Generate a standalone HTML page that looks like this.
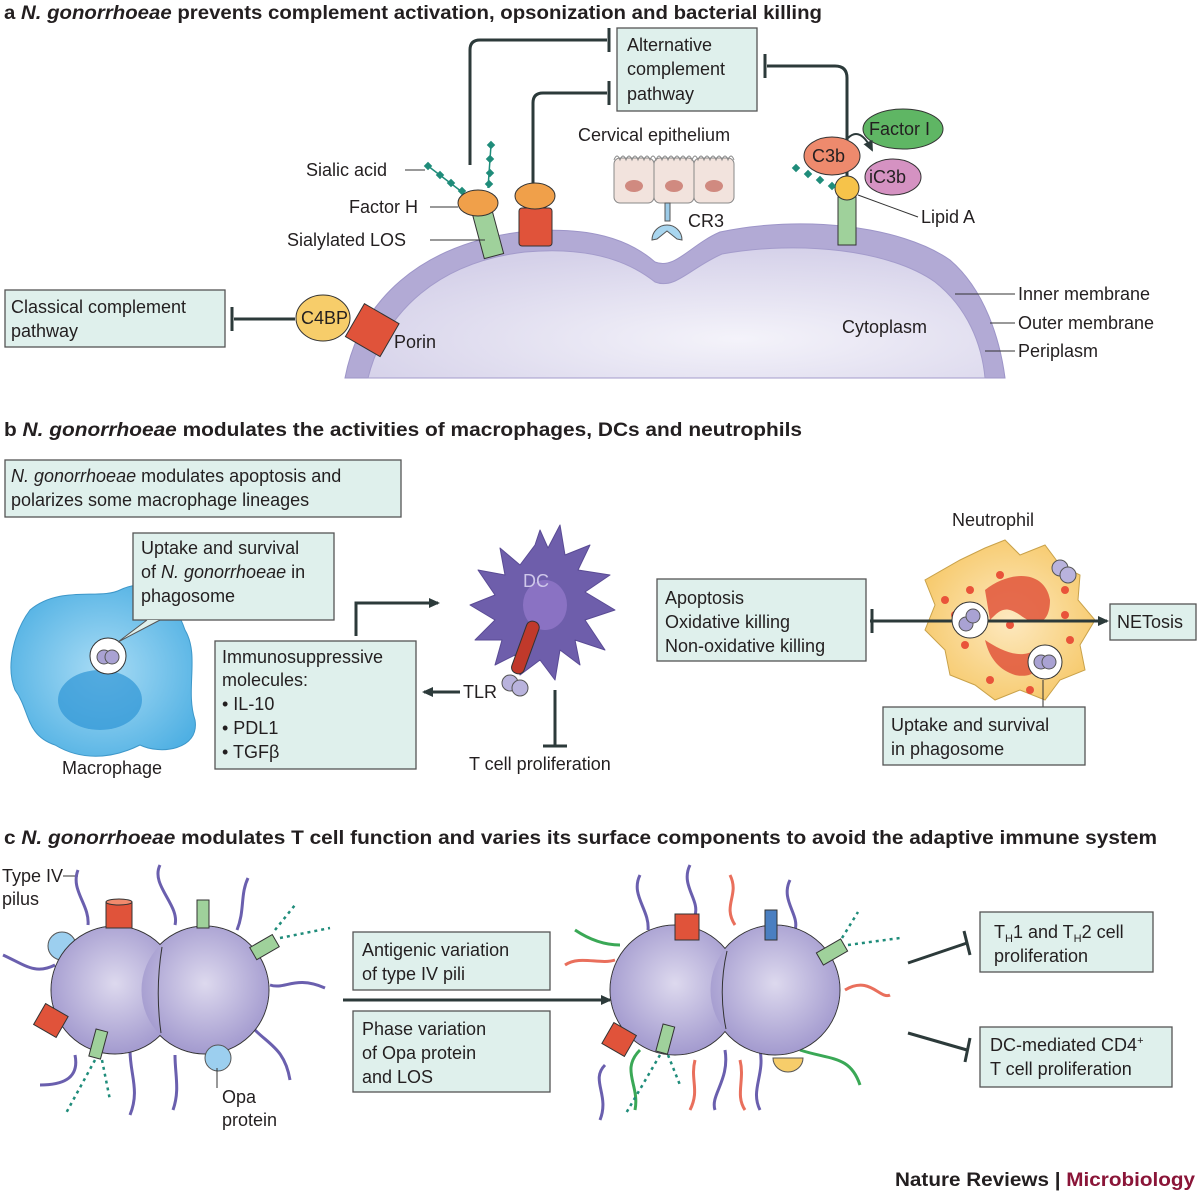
<!DOCTYPE html>
<html><head><meta charset="utf-8"><style>
html,body{margin:0;padding:0;background:#fff}
svg{display:block}
text{font-family:"Liberation Sans",sans-serif;font-size:18px;fill:#231f20}
.t{font-weight:bold;font-size:19px}
.bx{fill:#dff0ec;stroke:#555;stroke-width:1.3}
.ln{stroke:#2c3a3a;stroke-width:3;fill:none}
.th{stroke:#333;stroke-width:1;fill:none}
.pil{stroke:#6a5fae;stroke-width:3;fill:none}
</style></head><body>
<svg width="1200" height="1194" viewBox="0 0 1200 1194" xmlns="http://www.w3.org/2000/svg">
<defs>
<radialGradient id="cyt" cx="0.6" cy="0.7" r="0.7"><stop offset="0" stop-color="#f4f3fa"/><stop offset="1" stop-color="#d5d1e9"/></radialGradient>
<radialGradient id="bac" cx="0.5" cy="0.45" r="0.6"><stop offset="0" stop-color="#ddd9ee"/><stop offset="1" stop-color="#9e95cc"/></radialGradient>
<radialGradient id="mac" cx="0.5" cy="0.5" r="0.6"><stop offset="0" stop-color="#a9dcf5"/><stop offset="1" stop-color="#4fb0e3"/></radialGradient>
<radialGradient id="neu" cx="0.5" cy="0.5" r="0.6"><stop offset="0" stop-color="#fde9c0"/><stop offset="1" stop-color="#f6c765"/></radialGradient>
<marker id="ar" markerUnits="userSpaceOnUse" markerWidth="12" markerHeight="12" refX="9" refY="6" orient="auto"><path d="M0,1 L11,6 L0,11 z" fill="#2c3a3a"/></marker>
</defs>

<!-- ===== Section a ===== -->
<text x="4" y="19" class="t" textLength="818" lengthAdjust="spacingAndGlyphs">a  <tspan font-style="italic">N. gonorrhoeae</tspan> prevents complement activation, opsonization and bacterial killing</text>

<path d="M345,378 C360,300 420,245 520,232 C590,225 630,240 655,262 C675,270 690,245 720,232 C800,215 900,225 950,260 C985,290 1000,340 1005,378 Z" fill="#b2aad5" stroke="#9d95c8"/>
<path d="M368,378 C385,310 440,262 525,252 C590,246 630,262 655,282 C675,290 690,268 722,254 C800,240 890,250 935,282 C968,308 982,345 985,378 Z" fill="url(#cyt)" stroke="#a39bcb"/>

<rect class="bx" x="617" y="28" width="140" height="83"/>
<text x="627" y="51">Alternative</text><text x="627" y="75">complement</text><text x="627" y="100">pathway</text>
<path class="ln" d="M470,165 V50 Q470,40 480,40 H607"/><path class="ln" d="M609,28 V52"/>
<path class="ln" d="M533,183 V103 Q533,93 543,93 H607"/><path class="ln" d="M609,81 V105"/>
<path class="ln" d="M847,180 V78 Q847,66 835,66 H767"/><path class="ln" d="M765,54 V78"/>

<rect class="bx" x="5" y="290" width="220" height="57"/>
<text x="11" y="313">Classical complement</text><text x="11" y="337">pathway</text>
<path class="ln" d="M295,319 H234"/><path class="ln" d="M232,307 V331"/>

<g fill="#1f8c7a">
<rect x="425" y="163" width="6" height="6" transform="rotate(45 428 166)"/>
<rect x="437" y="172" width="6" height="6" transform="rotate(45 440 175)"/>
<rect x="448" y="180" width="6" height="6" transform="rotate(45 451 183)"/>
<rect x="459" y="188" width="6" height="6" transform="rotate(45 462 191)"/>
<rect x="488" y="142" width="6" height="6" transform="rotate(45 491 145)"/>
<rect x="487" y="156" width="6" height="6" transform="rotate(45 490 159)"/>
<rect x="487" y="170" width="6" height="6" transform="rotate(45 490 173)"/>
<rect x="486" y="181" width="6" height="6" transform="rotate(45 489 184)"/>
</g>
<path d="M428,166 L466,195 M491,145 L488,188" stroke="#1f8c7a" stroke-width="1.5"/>
<g transform="rotate(-15 487 230)"><rect x="477" y="212" width="20" height="45" fill="#9fd19b" stroke="#333"/></g>
<ellipse cx="478" cy="203" rx="20" ry="13" fill="#f0a04a" stroke="#333"/>
<rect x="519" y="208" width="33" height="38" rx="3" fill="#e0533a" stroke="#333"/>
<ellipse cx="535" cy="196" rx="20" ry="13" fill="#f0a04a" stroke="#333"/>
<text x="306" y="176">Sialic acid</text><path class="th" d="M405,170 H425"/>
<text x="349" y="213">Factor H</text><path class="th" d="M430,207 H458"/>
<text x="287" y="246">Sialylated LOS</text><path class="th" d="M430,240 H485"/>

<g transform="rotate(30 370 330)"><rect x="352" y="310" width="40" height="38" fill="#e0533a" stroke="#333"/></g>
<ellipse cx="323" cy="318" rx="27" ry="23" fill="#f7cd6a" stroke="#333"/>
<text x="301" y="324">C4BP</text>
<text x="394" y="348">Porin</text>

<text x="578" y="141">Cervical epithelium</text>
<g fill="#f2e3dd" stroke="#888">
<rect x="614" y="158" width="40" height="45" rx="6"/><rect x="654" y="158" width="40" height="45" rx="6"/><rect x="694" y="158" width="40" height="45" rx="6"/>
</g>
<g fill="#d08a80"><ellipse cx="634" cy="186" rx="9" ry="6"/><ellipse cx="674" cy="186" rx="9" ry="6"/><ellipse cx="714" cy="186" rx="9" ry="6"/></g>
<path d="M614,160 q3,-8 6,0 q3,-8 6,0 q3,-8 6,0 q3,-8 6,0 q3,-8 6,0 q3,-8 6,0 q3,-8 6,0 q3,-8 6,0 q3,-8 6,0 q3,-8 6,0 q3,-8 6,0 q3,-8 6,0 q3,-8 6,0 q3,-8 6,0 q3,-8 6,0 q3,-8 6,0 q3,-8 6,0 q3,-8 6,0 q3,-8 6,0 q3,-8 6,0" fill="none" stroke="#888"/>
<rect x="665" y="203" width="5" height="18" fill="#9ccbe8" stroke="#555"/>
<path d="M652,240 a15,15 0 1,1 30,0 l-5,-1 l-10,-8 l-10,8 z" fill="#a9d6ef" stroke="#555"/>
<text x="688" y="227">CR3</text>

<rect x="838" y="197" width="18" height="48" fill="#9fd19b" stroke="#333"/>
<circle cx="847" cy="188" r="12" fill="#f6c34a" stroke="#333"/>
<g fill="#1f8c7a">
<rect x="793" y="165" width="6" height="6" transform="rotate(45 796 168)"/>
<rect x="805" y="171" width="6" height="6" transform="rotate(45 808 174)"/>
<rect x="817" y="177" width="6" height="6" transform="rotate(45 820 180)"/>
<rect x="829" y="183" width="6" height="6" transform="rotate(45 832 186)"/>
</g>
<ellipse cx="832" cy="156" rx="28" ry="19" fill="#ee8a6d" stroke="#333"/><text x="812" y="162">C3b</text>
<ellipse cx="903" cy="129" rx="40" ry="20" fill="#5fb664" stroke="#333"/><text x="869" y="135">Factor I</text>
<ellipse cx="893" cy="177" rx="28" ry="18" fill="#d592c2" stroke="#333"/><text x="869" y="183">iC3b</text>
<path d="M848,138 Q860,126 872,150" fill="none" stroke="#2c3a3a" stroke-width="2" marker-end="url(#ar)"/>
<text x="921" y="223">Lipid A</text><path class="th" d="M858,195 L918,217"/>

<text x="842" y="333">Cytoplasm</text>
<text x="1018" y="300">Inner membrane</text><path class="th" d="M955,294 H1015"/>
<text x="1018" y="329">Outer membrane</text><path class="th" d="M990,323 H1015"/>
<text x="1018" y="357">Periplasm</text><path class="th" d="M985,351 H1015"/>

<!-- ===== Section b ===== -->
<text x="4" y="436" class="t" textLength="798" lengthAdjust="spacingAndGlyphs">b  <tspan font-style="italic">N. gonorrhoeae</tspan> modulates the activities of macrophages, DCs and neutrophils</text>
<rect class="bx" x="5" y="460" width="396" height="57"/>
<text x="11" y="482"><tspan font-style="italic">N. gonorrhoeae</tspan> modulates apoptosis and</text>
<text x="11" y="506">polarizes some macrophage lineages</text>

<path d="M30,610 C60,585 100,600 120,590 C150,575 175,600 185,630 C200,655 185,690 195,720 C200,750 160,755 140,745 C110,760 80,760 55,745 C25,735 30,710 15,690 C5,665 15,630 30,610 Z" fill="url(#mac)" stroke="#3d97c9"/>
<ellipse cx="100" cy="700" rx="42" ry="30" fill="#2f95d6" opacity="0.7"/>
<circle cx="108" cy="656" r="18" fill="#fff" stroke="#333"/>
<circle cx="104" cy="657" r="7" fill="#a9a2d3" stroke="#555"/><circle cx="112" cy="657" r="7" fill="#a9a2d3" stroke="#555"/>
<rect class="bx" x="133" y="533" width="201" height="87"/>
<path d="M147,620 L118,642 L160,620" fill="#dff0ec" stroke="#555"/>
<text x="141" y="554">Uptake and survival</text><text x="141" y="578">of <tspan font-style="italic">N. gonorrhoeae</tspan> in</text><text x="141" y="602">phagosome</text>
<text x="62" y="774">Macrophage</text>

<rect class="bx" x="215" y="641" width="201" height="128"/>
<text x="222" y="663">Immunosuppressive</text><text x="222" y="686">molecules:</text>
<text x="222" y="710">• IL-10</text><text x="222" y="734">• PDL1</text><text x="222" y="758">• TGFβ</text>
<path class="ln" d="M356,636 V603 H438" marker-end="url(#ar)"/>
<path class="ln" d="M460,692 H424" marker-end="url(#ar)"/>
<text x="463" y="698">TLR</text>

<path d="M535,545 L540,530 L548,548 L560,525 L565,555 L590,545 L578,570 L610,575 L585,592 L615,610 L585,620 L605,650 L575,640 L580,665 L560,650 L555,680 L540,660 L520,675 L515,655 L495,665 L502,640 L475,640 L495,620 L470,605 L495,595 L478,570 L505,575 L500,548 L520,565 Z" fill="#6e5eab" stroke="#5a4b95" stroke-linejoin="round"/>
<ellipse cx="545" cy="605" rx="22" ry="25" fill="#8a72c3"/>
<text x="523" y="587" style="fill:#cfc8ea">DC</text>
<g transform="rotate(20 525 650)"><rect x="518" y="620" width="13" height="55" rx="6" fill="#c0392b" stroke="#333"/></g>
<circle cx="510" cy="683" r="8" fill="#b9b3dd" stroke="#555"/><circle cx="520" cy="688" r="8" fill="#b9b3dd" stroke="#555"/>
<path class="ln" d="M555,690 V745"/><path class="ln" d="M543,746 H567"/>
<text x="469" y="770">T cell proliferation</text>

<rect class="bx" x="657" y="579" width="209" height="82"/>
<text x="665" y="604">Apoptosis</text><text x="665" y="628">Oxidative killing</text><text x="665" y="652">Non-oxidative killing</text>
<path d="M960,560 L985,548 L1005,540 L1020,555 L1045,545 L1060,565 L1080,575 L1078,600 L1095,620 L1080,645 L1085,670 L1060,680 L1045,700 L1020,690 L995,700 L975,685 L950,675 L945,650 L925,630 L935,605 L925,580 Z" fill="url(#neu)" stroke="#c9a24a"/>
<path d="M985,590 C1010,570 1045,570 1050,600 C1050,620 1040,630 1020,615 C1005,605 1000,610 990,620 Z" fill="#e0553b" opacity="0.85"/>
<path d="M985,640 C1000,650 1020,660 1035,650 C1045,660 1040,680 1015,675 C1000,670 990,660 985,640 Z" fill="#e0553b" opacity="0.85"/>
<g fill="#e9533a"><circle cx="970" cy="590" r="4"/><circle cx="955" cy="615" r="4"/><circle cx="1000" cy="575" r="4"/><circle cx="1065" cy="615" r="4"/><circle cx="1070" cy="640" r="4"/><circle cx="965" cy="645" r="4"/><circle cx="990" cy="680" r="4"/><circle cx="1030" cy="690" r="4"/><circle cx="1010" cy="625" r="4"/><circle cx="1065" cy="590" r="4"/><circle cx="945" cy="600" r="4"/></g>
<circle cx="1060" cy="568" r="8" fill="#b9b3dd" stroke="#555"/><circle cx="1068" cy="575" r="8" fill="#b9b3dd" stroke="#555"/>
<path class="ln" d="M870,621 H1107" marker-end="url(#ar)"/><path class="ln" d="M872,609 V633"/>
<circle cx="970" cy="620" r="18" fill="#fff" stroke="#333"/>
<circle cx="966" cy="624" r="7" fill="#a9a2d3" stroke="#555"/><circle cx="973" cy="616" r="7" fill="#a9a2d3" stroke="#555"/>
<circle cx="1045" cy="662" r="17" fill="#fff" stroke="#333"/>
<circle cx="1041" cy="662" r="7" fill="#a9a2d3" stroke="#555"/><circle cx="1049" cy="662" r="7" fill="#a9a2d3" stroke="#555"/>
<path class="th" d="M1043,680 V707"/>
<text x="952" y="526">Neutrophil</text>
<rect class="bx" x="1110" y="604" width="86" height="36"/><text x="1117" y="628">NETosis</text>
<rect class="bx" x="883" y="707" width="202" height="58"/>
<text x="891" y="731">Uptake and survival</text><text x="891" y="755">in phagosome</text>

<!-- ===== Section c ===== -->
<text x="4" y="844" class="t" textLength="1153" lengthAdjust="spacingAndGlyphs">c  <tspan font-style="italic">N. gonorrhoeae</tspan> modulates T cell function and varies its surface components to avoid the adaptive immune system</text>
<text x="2" y="882">Type IV</text><text x="2" y="905">pilus</text><path class="th" d="M63,876 H78"/>

<path class="pil" d="M78,870 C70,890 90,905 88,925 M3,955 C25,965 35,975 55,965 M160,865 C150,885 180,905 175,925 M248,878 C240,895 245,910 237,930 M270,985 C285,990 295,975 325,988 M75,1055 C80,1080 60,1085 40,1085 M130,1050 C130,1075 140,1090 130,1115 M175,1055 C175,1075 180,1090 173,1110 M255,1030 C270,1045 285,1050 290,1080"/>
<circle cx="62" cy="946" r="14" fill="#9ccfef" stroke="#555"/>
<circle cx="115" cy="990" r="64" fill="#a49bd0" stroke="#333"/>
<circle cx="205" cy="990" r="64" fill="#a49bd0" stroke="#333"/>
<circle cx="115" cy="990" r="63.5" fill="url(#bac)"/>
<circle cx="205" cy="990" r="63.5" fill="url(#bac)"/>
<path d="M162,947 Q155,990 161,1033" stroke="#333" fill="none"/>
<circle cx="218" cy="1058" r="13" fill="#9ccfef" stroke="#555"/>
<rect x="106" y="902" width="26" height="26" fill="#e0533a" stroke="#333"/><ellipse cx="119" cy="902" rx="13" ry="3" fill="#f08a6d" stroke="#333"/>
<rect x="197" y="900" width="12" height="28" fill="#9fd19b" stroke="#333"/>
<g transform="rotate(-30 265 948)"><rect x="252" y="940" width="26" height="14" fill="#9fd19b" stroke="#333"/></g>
<g transform="rotate(30 50 1020)"><rect x="38" y="1008" width="26" height="24" fill="#e0533a" stroke="#333"/></g>
<g transform="rotate(15 98 1045)"><rect x="92" y="1030" width="12" height="28" fill="#9fd19b" stroke="#333"/></g>
<path d="M280,938 L330,928 M275,930 L295,905 M95,1060 L65,1115 M102,1060 L110,1100" stroke="#1f8c7a" stroke-width="2.5" stroke-dasharray="3 4"/>
<text x="222" y="1103">Opa</text><text x="222" y="1126">protein</text><path class="th" d="M217,1068 V1088"/>

<rect class="bx" x="353" y="932" width="197" height="58"/>
<text x="362" y="956">Antigenic variation</text><text x="362" y="980">of type IV pili</text>
<path class="ln" d="M343,1000 H610" marker-end="url(#ar)"/>
<rect class="bx" x="353" y="1011" width="197" height="81"/>
<text x="362" y="1035">Phase variation</text><text x="362" y="1059">of Opa protein</text><text x="362" y="1083">and LOS</text>

<path class="pil" d="M640,875 C630,895 650,910 648,930 M690,865 C680,885 700,900 695,915 M790,880 C780,900 800,915 795,930 M605,1065 C590,1080 610,1095 600,1120 M760,1050 C765,1075 750,1090 760,1110 M725,1050 C730,1080 710,1095 715,1110"/>
<path d="M730,875 C740,895 722,905 735,925 M845,990 C870,975 880,1000 890,995 M565,965 C580,955 600,965 615,960" stroke="#e96f5c" stroke-width="3" fill="none"/>
<path d="M575,930 C590,940 605,945 620,945 M800,1050 C830,1060 850,1055 860,1085 M640,1050 C620,1070 640,1085 635,1110" stroke="#3aa856" stroke-width="3" fill="none"/>
<path d="M695,1060 C690,1080 700,1090 690,1110 M740,1060 C745,1080 735,1095 745,1110" stroke="#e96f5c" stroke-width="3" fill="none"/>
<circle cx="675" cy="990" r="65" fill="#a49bd0" stroke="#333"/>
<circle cx="775" cy="990" r="65" fill="#a49bd0" stroke="#333"/>
<circle cx="675" cy="990" r="64.5" fill="url(#bac)"/>
<circle cx="775" cy="990" r="64.5" fill="url(#bac)"/>
<path d="M727,951 Q718,990 726,1029" stroke="#333" fill="none"/>
<path d="M773,1058 a15,14 0 0,0 30,0 z" fill="#f7cd6a" stroke="#555"/>
<rect x="675" y="914" width="24" height="26" fill="#e0533a" stroke="#333"/>
<rect x="765" y="910" width="12" height="30" fill="#4a7fc1" stroke="#333"/>
<g transform="rotate(-30 832 952)"><rect x="818" y="945" width="28" height="14" fill="#9fd19b" stroke="#333"/></g>
<g transform="rotate(30 620 1040)"><rect x="606" y="1028" width="26" height="24" fill="#e0533a" stroke="#333"/></g>
<g transform="rotate(15 665 1040)"><rect x="659" y="1025" width="12" height="28" fill="#9fd19b" stroke="#333"/></g>
<path d="M848,945 L900,938 M842,938 L858,912 M660,1055 L625,1115 M668,1055 L680,1085" stroke="#1f8c7a" stroke-width="2.5" stroke-dasharray="3 4"/>

<path class="ln" d="M908,963 L967,943"/><path class="ln" d="M964,931 L970,955"/>
<path class="ln" d="M908,1033 L967,1050"/><path class="ln" d="M970,1038 L965,1062"/>
<rect class="bx" x="980" y="912" width="173" height="60"/>
<text x="994" y="938">T<tspan font-size="11" dy="4">H</tspan><tspan dy="-4">1 and T</tspan><tspan font-size="11" dy="4">H</tspan><tspan dy="-4">2 cell</tspan></text>
<text x="994" y="962">proliferation</text>
<rect class="bx" x="980" y="1027" width="192" height="60"/>
<text x="990" y="1051">DC-mediated CD4<tspan font-size="11" dy="-7">+</tspan></text>
<text x="990" y="1075">T cell proliferation</text>

<text x="895" y="1186" style="font-weight:bold;font-size:19px" textLength="300" lengthAdjust="spacingAndGlyphs">Nature Reviews | <tspan style="fill:#8a1538">Microbiology</tspan></text>
</svg>
</body></html>
